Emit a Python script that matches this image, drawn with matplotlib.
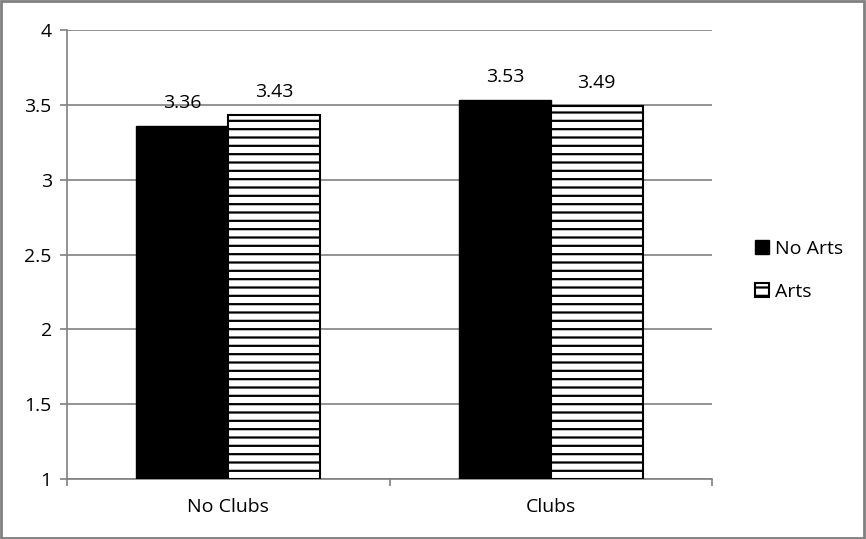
import numpy as np
import matplotlib.pyplot as plt
from matplotlib.patches import Rectangle

# Données
groupes = ['No Clubs', 'Clubs']
series = ['No Arts', 'Arts']
no_arts = [3.36, 3.53]
arts = [3.43, 3.49]

plt.rcParams['font.family'] = ['Open Sans', 'DejaVu Sans']
plt.rcParams['hatch.linewidth'] = 1.6
plt.rcParams['hatch.color'] = 'black'

fig = plt.figure(figsize=(8.66, 5.39), dpi=100)
ax = fig.add_axes([0.0774, 0.1113, 0.7448, 0.833])

x = np.arange(len(groupes))
w = 0.285
b1 = ax.bar(x - w / 2, np.array(no_arts) - 1, w, bottom=1, color='black',
            edgecolor='black', label=series[0], zorder=3)
b2 = ax.bar(x + w / 2, np.array(arts) - 1, w, bottom=1, color='white',
            edgecolor='black', hatch='--', linewidth=1.5, label=series[1], zorder=3)

for barres, vals in [(b1, no_arts), (b2, arts)]:
    for barre, val in zip(barres, vals):
        ax.annotate(f'{val:.2f}', (barre.get_x() + barre.get_width() / 2, val),
                    xytext=(0, 10), textcoords='offset points',
                    ha='center', va='bottom', fontsize=14)

ax.set_xlim(-0.5, 1.5)
ax.set_ylim(1, 4)
ax.set_yticks(np.arange(1, 4.01, 0.5))
ax.set_yticklabels(['1', '1.5', '2', '2.5', '3', '3.5', '4'])
ax.set_xticks(x)
ax.set_xticklabels(groupes)
ax.set_xticks([-0.5, 0.5, 1.5], minor=True)
ax.tick_params(axis='x', which='major', length=0, labelsize=14, pad=14)
ax.tick_params(axis='x', which='minor', length=5, color='#808080', width=1.2)
ax.tick_params(axis='y', length=5, color='#808080', width=1.2, labelsize=14, pad=6)
ax.grid(True, axis='y', color='#808080', lw=1.2, zorder=0)
for s in ['top', 'right']:
    ax.spines[s].set_visible(False)
for s in ['left', 'bottom']:
    ax.spines[s].set_color('#808080')
    ax.spines[s].set_linewidth(1.2)

ax.legend(loc='center left', bbox_to_anchor=(1.04, 0.465), frameon=False,
          fontsize=14, handlelength=0.7, handleheight=0.7, handletextpad=0.3,
          labelspacing=1.3)

fig.patches.append(Rectangle((0.001, 0.001), 0.997, 0.997, transform=fig.transFigure,
                             fill=False, edgecolor='#808080', lw=2))

plt.savefig('out.png', dpi=100)
